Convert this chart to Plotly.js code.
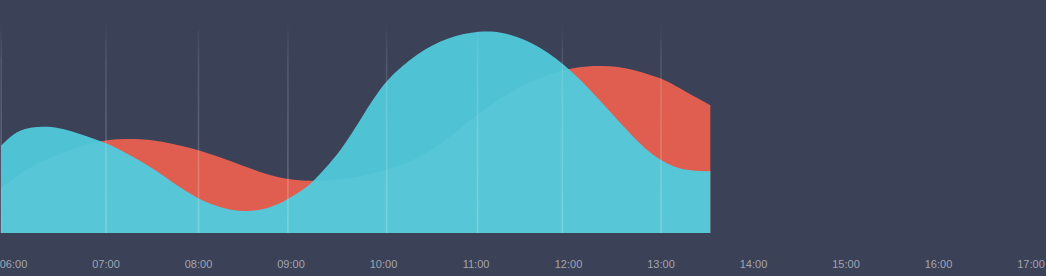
<!DOCTYPE html>
<html>
<head>
<meta charset="utf-8">
<script src="https://cdn.plot.ly/plotly-3.0.1.min.js"></script>
<style>
  html, body { margin: 0; padding: 0; background: #3b4157; }
  #chart { width: 1046px; height: 276px; }
</style>
</head>
<body>
<div id="chart"></div>
<script>
// ---- data ----
const day = '2024-01-01';
const times = ['05:52','06:02','06:12','06:22','06:32','06:42','06:52','07:02','07:12','07:22',
               '07:32','07:42','07:52','08:02','08:12','08:22','08:32','08:42','08:52','09:02',
               '09:12','09:22','09:32','09:42','09:52','10:02','10:12','10:22','10:32','10:42',
               '10:52','11:02','11:12','11:22','11:32','11:42','11:52','12:02','12:12','12:22',
               '12:32','12:42','12:52','13:02','13:12','13:22','13:32'];
const redValues  = [45.5, 56.5, 66.5, 74, 80, 85.5, 90, 93, 93.9, 93.7,
                    92.2, 89.6, 86.1, 81.8, 76.8, 71.2, 65.4, 60, 55.8, 53.3,
                    52.2, 52.6, 53.8, 56, 59.3, 63.5, 68.8, 75.3, 84, 95,
                    107.5, 119.5, 130.5, 140.2, 148.5, 155.3, 160.8, 164.6, 166.5, 166.9,
                    165.9, 162.9, 158.4, 153, 145, 136.2, 127.8];
const cyanValues = [87.5, 100.5, 105.5, 106.2, 104, 99.5, 94.2, 88.4, 80.7, 72.2,
                    62.7, 52, 41.7, 33, 27, 23, 22, 24, 29.2, 37.7,
                    48.5, 64.4, 83, 106, 130.5, 151.5, 166.5, 178.5, 187.8, 194.4,
                    198.9, 201.3, 201.2, 198.2, 192.7, 184.7, 174.2, 161.2, 146.2, 129.7,
                    112.7, 96.2, 81.7, 71.2, 64.7, 62.2, 61.9];
const gridTimes = ['05:52', '07:00', '08:00', '08:58', '10:02', '11:01', '11:56', '13:00'];
const tickStart = '06:00';
const rangeStart = '05:51:14';
const rangeEnd = '17:09:44';

// ---- styles ----
const bg = '#3b4157';
const redFill = 'rgb(222,86,71)';
const cyanFill = 'rgb(79,195,212)';
const overlayFill = 'rgba(255,255,255,0.05)';

const x = times.map(t => day + ' ' + t);

function area(yv, color) {
  return {
    x: x, y: yv, type: 'scatter', mode: 'lines',
    line: { shape: 'spline', smoothing: 1, width: 0, color: color },
    fill: 'tozeroy', fillcolor: color, hoverinfo: 'skip', showlegend: false
  };
}

const traces = [
  area(redValues, redFill),
  area(cyanValues, cyanFill),
  area(redValues, overlayFill)
];

// gradient vertical gridlines
const shapes = [];
const topFrac = 1 - 22 / 233;
const N = 24;
gridTimes.forEach(t => {
  const xv = day + ' ' + t;
  for (let i = 0; i < N; i++) {
    const y1 = topFrac - topFrac * (i / N);
    const y0 = topFrac - topFrac * ((i + 1) / N);
    const mid = (i + 0.5) / N;
    let a;
    if (mid < 0.18) a = 0.12 * (mid / 0.18);
    else a = 0.12 + 0.10 * ((mid - 0.18) / 0.82);
    shapes.push({
      type: 'line', xref: 'x', yref: 'paper', x0: xv, x1: xv, y0: y0, y1: y1,
      line: { color: 'rgba(255,255,255,' + a.toFixed(3) + ')', width: 1.6 },
      layer: 'above'
    });
  }
});

const layout = {
  width: 1046, height: 276,
  margin: { l: 0, r: 0, t: 0, b: 43, pad: 0 },
  paper_bgcolor: bg, plot_bgcolor: bg,
  showlegend: false,
  xaxis: {
    type: 'date',
    range: [day + ' ' + rangeStart, day + ' ' + rangeEnd],
    tick0: day + ' ' + tickStart, dtick: 3600000,
    tickformat: '%H:%M',
    showgrid: false, zeroline: false, showline: false, ticks: '',
    ticklabelstandoff: 23,
    ticklabeloverflow: 'allow',
    tickfont: { family: 'Liberation Sans, Arial, sans-serif', size: 11, color: '#a2a5b0' },
    fixedrange: true
  },
  yaxis: {
    range: [0, 233], visible: false, fixedrange: true
  },
  shapes: shapes
};

Plotly.newPlot('chart', traces, layout, { displayModeBar: false, staticPlot: true });
</script>
</body>
</html>
